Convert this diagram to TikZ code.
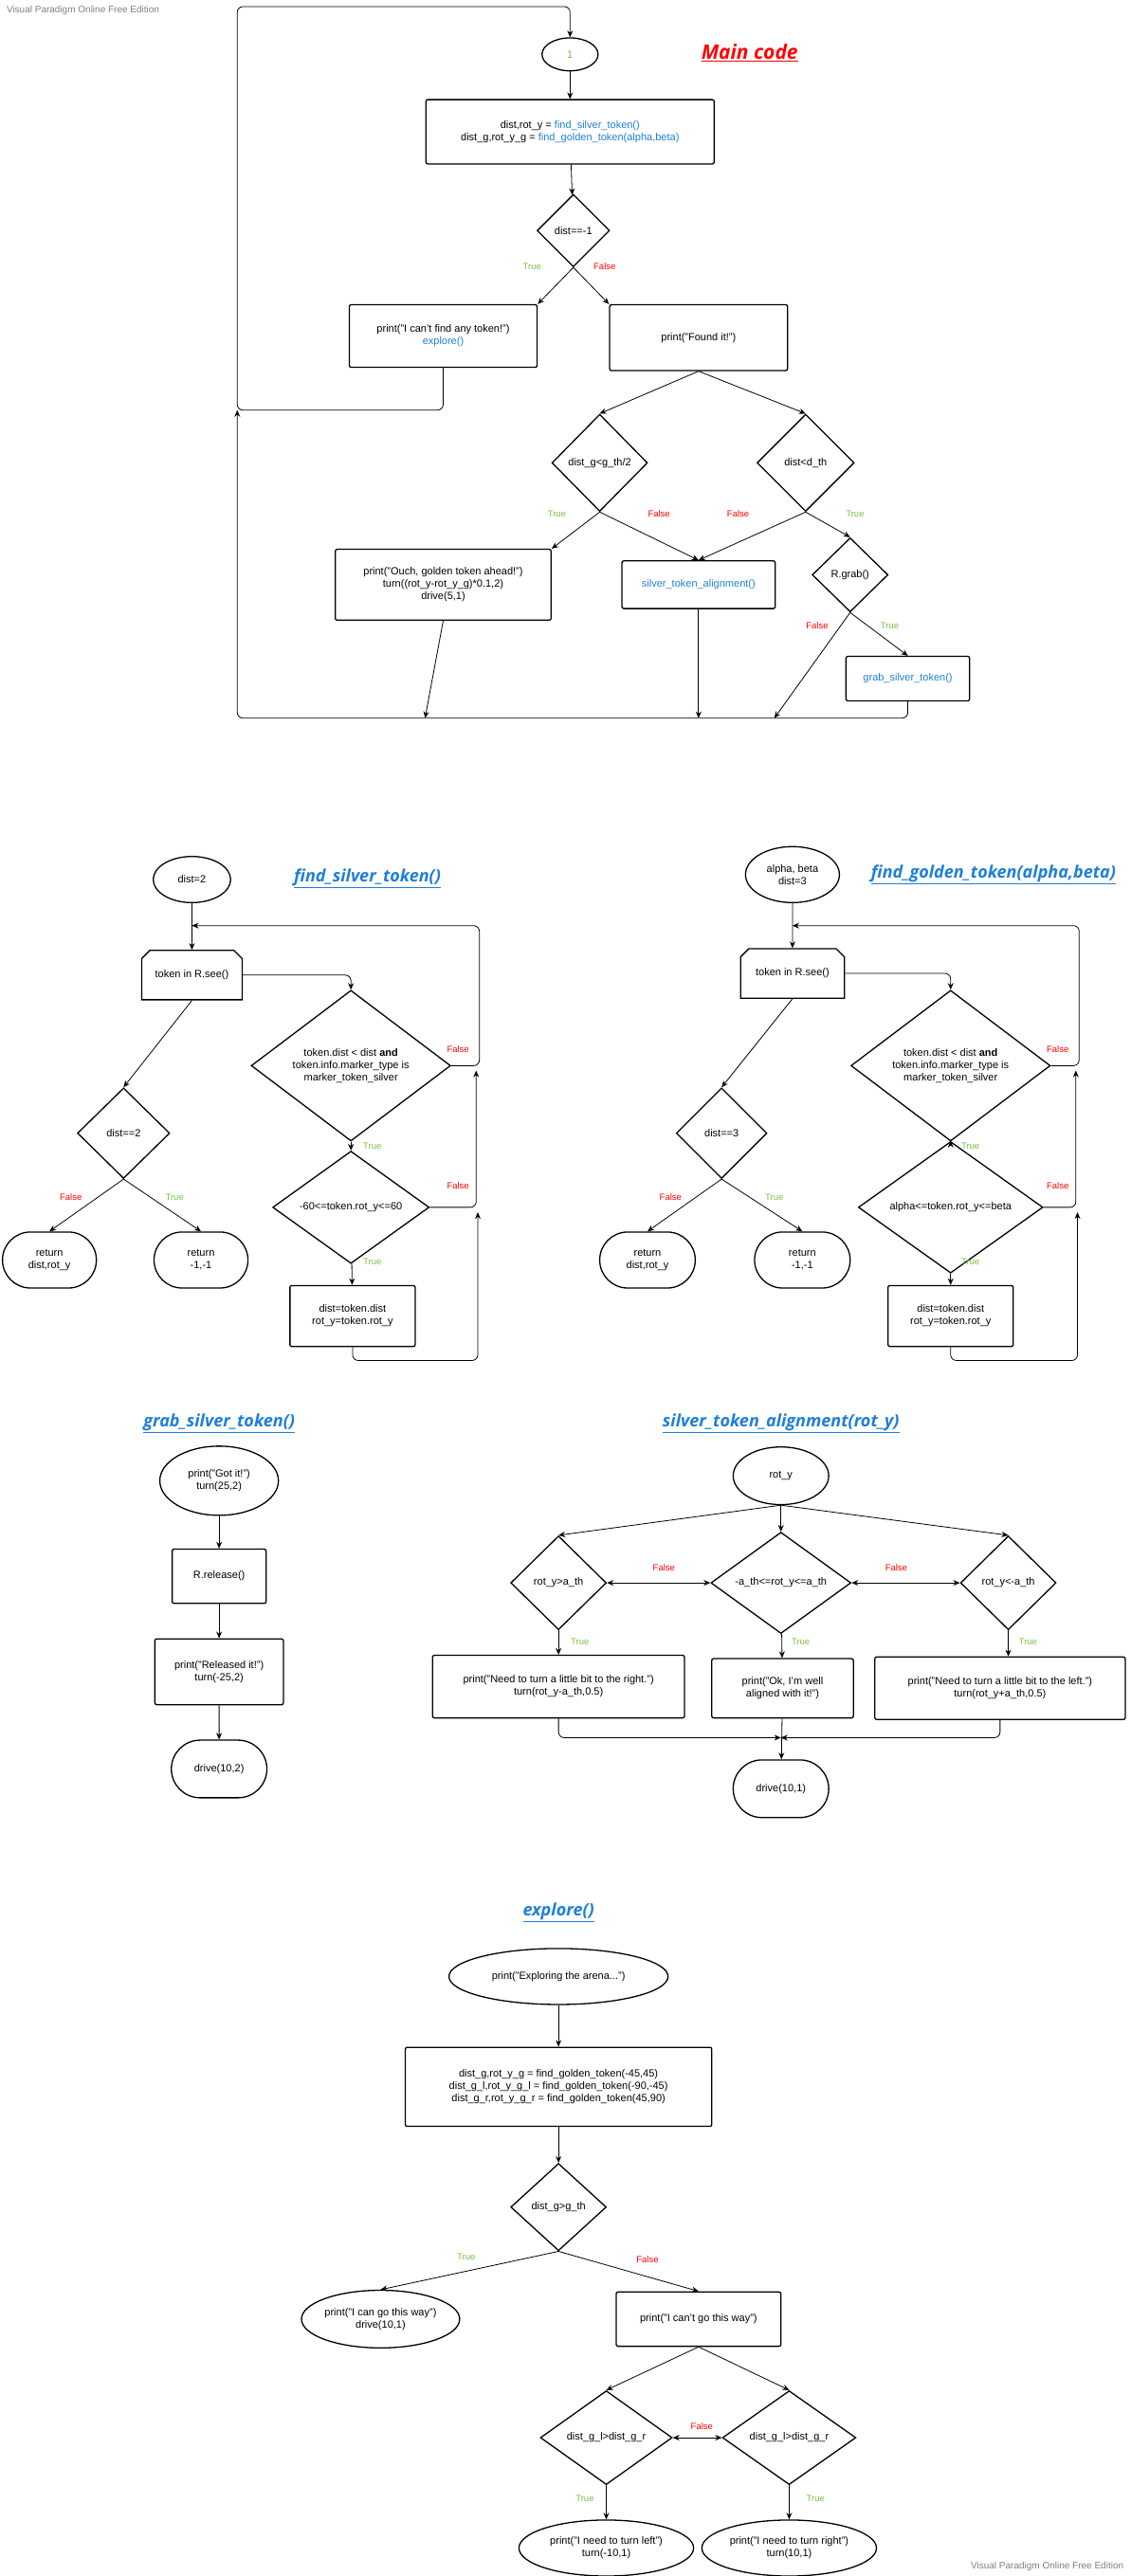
\documentclass[tikz,border=0pt]{standalone}
\usepackage{fontspec}
\setmainfont{Liberation Sans}
\newfontfamily\titlefont{Open Sans}
\usetikzlibrary{arrows.meta,shapes.geometric,shapes.misc}
\definecolor{tgreen}{HTML}{7AC143}
\definecolor{fred}{HTML}{FF0000}
\definecolor{fblue}{HTML}{1E7FD8}
\definecolor{wmark}{HTML}{808080}
\newcommand{\fn}[1]{\textcolor{fblue}{#1}}

\begin{document}
\begin{tikzpicture}[x=1.7376pt,y=-1.7376pt,
  font=\fontsize{11}{13}\selectfont,
  sz/.style 2 args={minimum width=#1*1.7376pt,minimum height=#2*1.7376pt},
  proc/.style={rectangle,rounded corners=2pt,draw,line width=1.3pt,align=center,inner sep=1pt},
  test/.style={diamond,draw,line width=1.3pt,align=center,inner sep=0pt},
  oval/.style={ellipse,draw,line width=1.3pt,align=center,inner sep=0pt},
  stad/.style={rounded rectangle,draw,line width=1.3pt,align=center,inner sep=0pt},
  hexa/.style={chamfered rectangle,chamfered rectangle corners={north west,north east},
    chamfered rectangle xsep=8pt,draw,line width=1.3pt,align=center,inner sep=0pt},
  arr/.style={-{Stealth[length=7pt,width=6pt]},line width=0.8pt},
  twoway/.style={{Stealth[length=7pt,width=6pt]}-{Stealth[length=7pt,width=6pt]},line width=0.8pt},
  yes/.style={text=tgreen,font=\fontsize{9.5}{11}\selectfont},
  no/.style={text=fred,font=\fontsize{9.5}{11}\selectfont},
  heading/.style={font=\titlefont\fontsize{18}{22}\bfseries\itshape,text=fblue}]
\useasboundingbox (0,0) rectangle (686,1564);

\node[anchor=west,text=wmark,font=\fontsize{10}{12}\selectfont] (markTop) at (2,6) {Visual Paradigm Online Free Edition};
\node[anchor=east,text=wmark,font=\fontsize{10}{12}\selectfont] (markBottom) at (684,1558) {Visual Paradigm Online Free Edition};

% main code
\node[heading,text=fred,font=\titlefont\fontsize{21}{24}\bfseries\itshape] (mainTitle) at (455,32) {\underline{Main code}};
\node[oval,sz={34}{20}] (start) at (346,33) {\textcolor{tgreen}{1}};
\node[proc,sz={175}{39}] (read) at (346,80) {dist,rot\_y = \fn{find\_silver\_token()}\\dist\_g,rot\_y\_g = \fn{find\_golden\_token(alpha,beta)}};
\node[test,sz={44}{44}] (isneg) at (348,140) {dist==-1};
\node[proc,sz={114}{38}] (notoken) at (269,204) {print("I can't find any token!")\\\fn{explore()}};
\node[proc,sz={108}{40}] (found) at (424,205) {print("Found it!")};
\node[test,sz={58}{59}] (golden) at (364,281) {dist\_g<g\_th/2};
\node[test,sz={59}{59}] (close) at (489,281) {dist<d\_th};
\node[proc,sz={131}{43}] (ouch) at (269,355) {print("Ouch, golden token ahead!")\\turn((rot\_y-rot\_y\_g)*0.1,2)\\drive(5,1)};
\node[proc,sz={93}{29}] (align) at (424,355) {\fn{silver\_token\_alignment()}};
\node[test,sz={46}{45}] (grab) at (516,349) {R.grab()};
\node[proc,sz={75}{27}] (grabcall) at (551,412) {\fn{grab\_silver\_token()}};
\coordinate (loopMid) at (144,249);
\coordinate (loopLow) at (144,436);
\coordinate (loopTop) at (144,4);
\coordinate (ouchEnd) at (258,436);
\coordinate (grabEnd) at (470,436);

\draw[arr] (start) -- (read);
\draw[arr] (read) -- (isneg);
\draw[arr] (isneg.south) -- (notoken.north east);
\draw[arr] (isneg.south) -- (found.north west);
\draw[arr] (found.south) -- (golden.north);
\draw[arr] (found.south) -- (close.north);
\draw[arr] (golden.south) -- (ouch.north east);
\draw[arr] (golden.south) -- (align.north);
\draw[arr] (close.south) -- (align.north);
\draw[arr] (close.south) -- (grab.north);
\draw[arr] (grab.south) -- (grabcall.north);
\draw[arr] (grab.south) -- (grabEnd);
\draw[arr] (ouch.south) -- (ouchEnd);
\draw[arr] (align.south) -- (align.south |- loopLow);
\draw[arr,rounded corners=6pt] (grabcall.south) |- (loopLow) -- (loopMid);
\draw[arr,rounded corners=6pt] (notoken.south) |- (loopMid) -- (loopTop) -| (start.north);
\node[yes] (t1) at (323,162) {True};
\node[no] (f1) at (367,162) {False};
\node[yes] (t2) at (338,312) {True};
\node[no] (f2) at (400,312) {False};
\node[no] (f3) at (448,312) {False};
\node[yes] (t3) at (519,312) {True};
\node[no] (f4) at (496,380) {False};
\node[yes] (t4) at (540,380) {True};

% find_silver_token()
\node[heading] (sTitle) at (223,533) {\underline{find\_silver\_token()}};
\node[oval,sz={47}{28}] (sInit) at (116.5,534) {dist=2};
\node[hexa,sz={61}{30}] (sLoop) at (116.5,592) {token in R.see()};
\node[test,sz={56}{55}] (sEq) at (75,688) {dist==2};
\node[test,sz={121}{81}] (sCond) at (213,647) {token.dist < dist \textbf{and}\\token.info.marker\_type is\\marker\_token\_silver};
\node[test,sz={95}{50}] (sRange) at (213,733) {-60<=token.rot\_y<=60};
\node[proc,sz={76}{37}] (sSet) at (214,799) {dist=token.dist\\rot\_y=token.rot\_y};
\node[stad,sz={57}{34}] (sRet) at (30,765) {return\\dist,rot\_y};
\node[stad,sz={57}{34}] (sNone) at (122,765) {return\\-1,-1};
\coordinate (sJoin) at (116.5,562);
\draw[arr] (sInit) -- (sLoop);
\draw[arr] (sLoop.south) -- (sEq.north);
\draw[arr,rounded corners=6pt] (sLoop.east) -| (sCond.north);
\draw[arr] (sEq.south) -- (sRet.north);
\draw[arr] (sEq.south) -- (sNone.north);
\draw[arr] (sCond) -- (sRange);
\draw[arr] (sRange) -- (sSet);
\draw[arr,rounded corners=6pt] (sCond.east) -- (291,647) |- (sJoin);
\draw[arr,rounded corners=6pt] (sRange.east) -- (289,733) -- (289,650);
\draw[arr,rounded corners=6pt] (sSet.south) |- (290,826) -- (290,736);
\node[no] (sf1) at (278,637) {False};
\node[no] (sf2) at (278,720) {False};
\node[yes] (st1) at (226,696) {True};
\node[yes] (st2) at (226,766) {True};
\node[no] (sf3) at (43,727) {False};
\node[yes] (st3) at (106,727) {True};

% find_golden_token(alpha,beta)
\node[heading] (gTitle) at (603,531) {\underline{find\_golden\_token(alpha,beta)}};
\node[oval,sz={57}{34}] (gInit) at (481,531) {alpha, beta\\dist=3};
\node[hexa,sz={63}{30}] (gLoop) at (481,591) {token in R.see()};
\node[test,sz={55}{55}] (gEq) at (438,688) {dist==3};
\node[test,sz={121}{81}] (gCond) at (577,647) {token.dist < dist \textbf{and}\\token.info.marker\_type is\\marker\_token\_silver};
\node[test,sz={112}{57}] (gRange) at (577,733) {alpha<=token.rot\_y<=beta};
\node[proc,sz={76}{37}] (gSet) at (577,799) {dist=token.dist\\rot\_y=token.rot\_y};
\node[stad,sz={58}{34}] (gRet) at (393,765) {return\\dist,rot\_y};
\node[stad,sz={58}{34}] (gNone) at (487,765) {return\\-1,-1};
\coordinate (gJoin) at (481,562);
\draw[arr] (gInit) -- (gLoop);
\draw[arr] (gLoop.south) -- (gEq.north);
\draw[arr,rounded corners=6pt] (gLoop.east) -| (gCond.north);
\draw[arr] (gEq.south) -- (gRet.north);
\draw[arr] (gEq.south) -- (gNone.north);
\draw[arr] (gCond) -- (gRange);
\draw[arr] (gRange) -- (gSet);
\draw[arr,rounded corners=6pt] (gCond.east) -- (655,647) |- (gJoin);
\draw[arr,rounded corners=6pt] (gRange.east) -- (653,733) -- (653,650);
\draw[arr,rounded corners=6pt] (gSet.south) |- (654,826) -- (654,736);
\node[no] (gf1) at (642,637) {False};
\node[no] (gf2) at (642,720) {False};
\node[yes] (gt1) at (589,696) {True};
\node[yes] (gt2) at (589,766) {True};
\node[no] (gf3) at (407,727) {False};
\node[yes] (gt3) at (470,727) {True};

% grab_silver_token()
\node[heading] (rTitle) at (133,864) {\underline{grab\_silver\_token()}};
\node[oval,sz={72}{42}] (rStart) at (133,899) {print("Got it!")\\turn(25,2)};
\node[proc,sz={57}{33}] (rRelease) at (133,957) {R.release()};
\node[proc,sz={78}{40}] (rMsg) at (133,1015) {print("Released it!")\\turn(-25,2)};
\node[stad,sz={58}{35}] (rDrive) at (133,1074) {drive(10,2)};
\draw[arr] (rStart) -- (rRelease);
\draw[arr] (rRelease) -- (rMsg);
\draw[arr] (rMsg) -- (rDrive);

% silver_token_alignment(rot_y)
\node[heading] (aTitle) at (474,864) {\underline{silver\_token\_alignment(rot\_y)}};
\node[oval,sz={58}{35}] (aStart) at (474,896) {rot\_y};
\node[test,sz={58}{57}] (aRight) at (339,961) {rot\_y>a\_th};
\node[test,sz={85}{57}] (aMid) at (474,961) {-a\_th<=rot\_y<=a\_th};
\node[test,sz={58}{57}] (aLeft) at (612,961) {rot\_y<-a\_th};
\node[proc,sz={153}{38}] (aRightBox) at (339,1024) {print("Need to turn a little bit to the right.")\\turn(rot\_y-a\_th,0.5)};
\node[proc,sz={86}{36}] (aOk) at (475,1025) {print("Ok, I'm well\\aligned with it!")};
\node[proc,sz={152}{38}] (aLeftBox) at (607,1025) {print("Need to turn a little bit to the left.")\\turn(rot\_y+a\_th,0.5)};
\node[stad,sz={58}{35}] (aDrive) at (474,1086) {drive(10,1)};
\coordinate (aJoin) at (474,1055);
\draw[arr] (aStart.south) -- (aRight.north);
\draw[arr] (aStart.south) -- (aMid.north);
\draw[arr] (aStart.south) -- (aLeft.north);
\draw[twoway] (aRight.east) -- (aMid.west);
\draw[twoway] (aMid.east) -- (aLeft.west);
\draw[arr] (aRight) -- (aRightBox);
\draw[arr] (aMid) -- (aOk);
\draw[arr] (aLeft.south) -- (aLeft.south |- aLeftBox.north);
\draw[arr] (aOk) -- (aDrive);
\draw[arr,rounded corners=6pt] (aRightBox.south) |- (aJoin);
\draw[arr,rounded corners=6pt] (aLeftBox.south) |- (aJoin);
\node[no] (af1) at (403,952) {False};
\node[no] (af2) at (544,952) {False};
\node[yes] (at1) at (352,997) {True};
\node[yes] (at2) at (486,997) {True};
\node[yes] (at3) at (624,997) {True};

% explore()
\node[heading] (eTitle) at (339,1161) {\underline{explore()}};
\node[oval,sz={133}{34}] (eStart) at (339,1200) {print("Exploring the arena...")};
\node[proc,sz={186}{48}] (eRead) at (339,1267) {dist\_g,rot\_y\_g = find\_golden\_token(-45,45)\\dist\_g\_l,rot\_y\_g\_l = find\_golden\_token(-90,-45)\\dist\_g\_r,rot\_y\_g\_r = find\_golden\_token(45,90)};
\node[test,sz={58}{53}] (eFar) at (339,1340) {dist\_g>g\_th};
\node[oval,sz={94}{35}] (eGo) at (231,1408) {print("I can go this way")\\drive(10,1)};
\node[proc,sz={100}{33}] (eStop) at (424,1408) {print("I can't go this way")};
\node[test,sz={80}{57}] (eLeft) at (368,1480) {dist\_g\_l>dist\_g\_r};
\node[test,sz={81}{57}] (eRight) at (479,1480) {dist\_g\_l>dist\_g\_r};
\node[oval,sz={106}{34}] (eTurnL) at (368,1547) {print("I need to turn left")\\turn(-10,1)};
\node[oval,sz={106}{34}] (eTurnR) at (479,1547) {print("I need to turn right")\\turn(10,1)};
\draw[arr] (eStart) -- (eRead);
\draw[arr] (eRead) -- (eFar);
\draw[arr] (eFar.south) -- (eGo.north);
\draw[arr] (eFar.south) -- (eStop.north);
\draw[arr] (eStop.south) -- (eLeft.north);
\draw[arr] (eStop.south) -- (eRight.north);
\draw[twoway] (eLeft.east) -- (eRight.west);
\draw[arr] (eLeft) -- (eTurnL);
\draw[arr] (eRight) -- (eTurnR);
\node[yes] (et1) at (283,1370) {True};
\node[no] (ef1) at (393,1372) {False};
\node[no] (ef2) at (426,1473) {False};
\node[yes] (et2) at (355,1517) {True};
\node[yes] (et3) at (495,1517) {True};
\end{tikzpicture}
\end{document}
